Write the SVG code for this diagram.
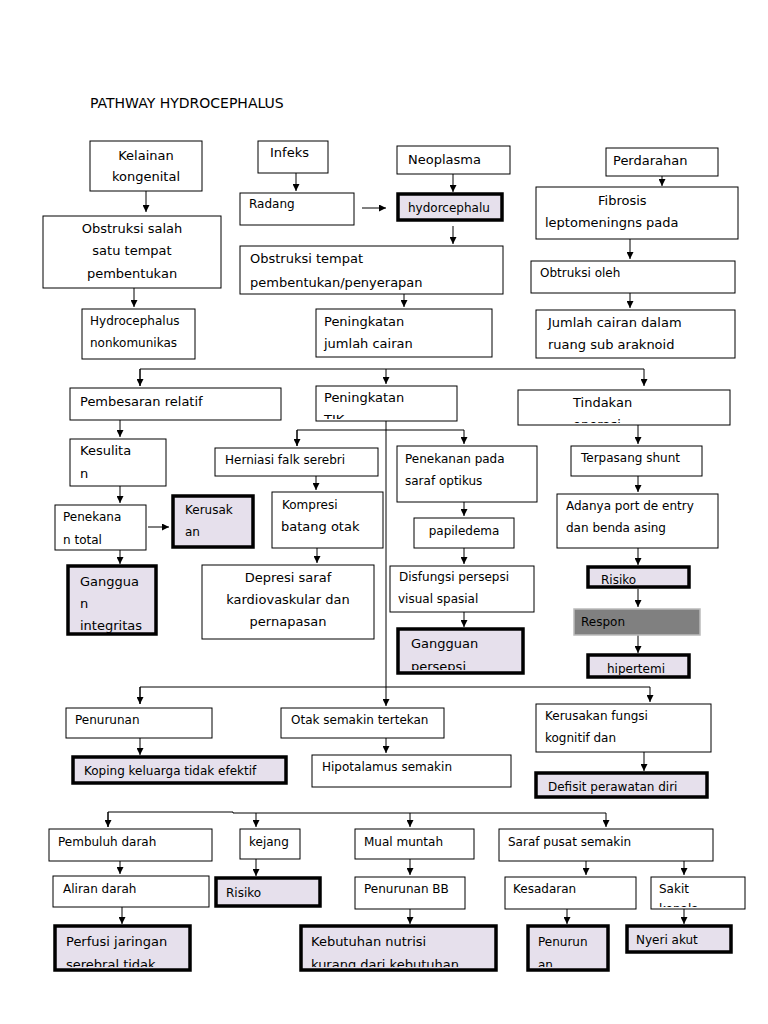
<svg xmlns="http://www.w3.org/2000/svg" width="768" height="1024" viewBox="0 0 768 1024">
<style>
.b{fill:#fff;stroke:#000;stroke-width:1}
.t{fill:#e6e0ec;stroke:#000;stroke-width:3.5}
.g{fill:#808080;stroke:#bbb;stroke-width:1.5}
text{font-family:"DejaVu Sans",sans-serif;font-size:13px;fill:#000}
.s{font-size:12px}
.c line,.c polyline{stroke:#000;stroke-width:1;fill:none}
</style>
<defs>
<marker id="a" viewBox="0 0 10 10" refX="10" refY="5" markerWidth="7" markerHeight="7" orient="auto"><path d="M0,0L10,5L0,10z" fill="#000"/></marker>
<clipPath id="k1"><rect x="316" y="386" width="141" height="33"/></clipPath>
<clipPath id="k2"><rect x="518" y="390" width="212" height="33"/></clipPath>
<clipPath id="k3"><rect x="68" y="566" width="88" height="68"/></clipPath>
<clipPath id="k4"><rect x="588" y="567" width="101" height="18"/></clipPath>
<clipPath id="k5"><rect x="398" y="629" width="125" height="41"/></clipPath>
<clipPath id="k6"><rect x="588" y="655" width="101" height="20"/></clipPath>
<clipPath id="k7"><rect x="536" y="773" width="171" height="22"/></clipPath>
<clipPath id="k8"><rect x="55" y="926" width="135" height="41"/></clipPath>
<clipPath id="k9"><rect x="301" y="926" width="195" height="41"/></clipPath>
<clipPath id="k10"><rect x="528" y="926" width="80" height="41"/></clipPath>
<clipPath id="k11"><rect x="651" y="877" width="94" height="30"/></clipPath>
</defs>
<text x="90" y="108" style="font-size:14px">PATHWAY HYDROCEPHALUS</text>

<g class="c">
<line x1="146" y1="191" x2="146" y2="212" marker-end="url(#a)"/>
<line x1="296" y1="173" x2="296" y2="191" marker-end="url(#a)"/>
<line x1="453" y1="174" x2="453" y2="192" marker-end="url(#a)"/>
<line x1="662" y1="176" x2="662" y2="186" marker-end="url(#a)"/>
<line x1="362" y1="208" x2="386" y2="208" marker-end="url(#a)"/>
<line x1="453" y1="226" x2="453" y2="244" marker-end="url(#a)"/>
<line x1="630" y1="239" x2="630" y2="259" marker-end="url(#a)"/>
<line x1="134" y1="288" x2="134" y2="307" marker-end="url(#a)"/>
<line x1="404" y1="294" x2="404" y2="307" marker-end="url(#a)"/>
<line x1="630" y1="293" x2="630" y2="308" marker-end="url(#a)"/>
<polyline points="140,386 140,369 644,369 644,386" marker-end="url(#a)"/>
<line x1="140" y1="369" x2="140" y2="386" marker-end="url(#a)"/>
<line x1="386" y1="369" x2="386" y2="384" marker-end="url(#a)"/>
<line x1="120" y1="420" x2="120" y2="437" marker-end="url(#a)"/>
<line x1="120" y1="486" x2="120" y2="503" marker-end="url(#a)"/>
<line x1="120" y1="550" x2="120" y2="564" marker-end="url(#a)"/>
<line x1="148" y1="527" x2="169" y2="527" stroke="#999" marker-end="url(#a)"/>
<line x1="386" y1="421" x2="386" y2="687"/>
<polyline points="297,446 297,430 464,430 464,444" marker-end="url(#a)"/>
<line x1="297" y1="430" x2="297" y2="446" marker-end="url(#a)"/>
<line x1="316" y1="476" x2="316" y2="490" marker-end="url(#a)"/>
<line x1="317" y1="548" x2="317" y2="563" marker-end="url(#a)"/>
<line x1="464" y1="502" x2="464" y2="516" marker-end="url(#a)"/>
<line x1="464" y1="548" x2="464" y2="564" marker-end="url(#a)"/>
<line x1="464" y1="612" x2="464" y2="627" marker-end="url(#a)"/>
<line x1="638" y1="425" x2="638" y2="444" stroke="#bbb" marker-end="url(#a)"/>
<line x1="638" y1="476" x2="638" y2="492" stroke="#bbb" marker-end="url(#a)"/>
<line x1="638" y1="548" x2="638" y2="565" stroke="#bbb" marker-end="url(#a)"/>
<line x1="638" y1="589" x2="638" y2="607" stroke="#bbb" marker-end="url(#a)"/>
<line x1="638" y1="635" x2="638" y2="653" marker-end="url(#a)"/>
<polyline points="140,704 140,687 650,687 650,702" marker-end="url(#a)"/>
<line x1="140" y1="687" x2="140" y2="704" marker-end="url(#a)"/>
<line x1="386" y1="687" x2="386" y2="706" marker-end="url(#a)"/>
<line x1="140" y1="738" x2="140" y2="755" marker-end="url(#a)"/>
<line x1="386" y1="738" x2="386" y2="753" marker-end="url(#a)"/>
<line x1="644" y1="752" x2="644" y2="771" marker-end="url(#a)"/>
<polyline points="108,827 108,812 233,812 233,813 606,813 606,827" marker-end="url(#a)"/>
<line x1="108" y1="812" x2="108" y2="827" marker-end="url(#a)"/>
<line x1="256" y1="813" x2="256" y2="827" marker-end="url(#a)"/>
<line x1="410" y1="813" x2="410" y2="827" marker-end="url(#a)"/>
<line x1="120" y1="861" x2="120" y2="874" stroke="#999" marker-end="url(#a)"/>
<line x1="256" y1="859" x2="256" y2="876" stroke="#999" marker-end="url(#a)"/>
<line x1="410" y1="859" x2="410" y2="875" marker-end="url(#a)"/>
<line x1="586" y1="861" x2="586" y2="875" marker-end="url(#a)"/>
<line x1="684" y1="861" x2="684" y2="875" marker-end="url(#a)"/>
<line x1="122" y1="907" x2="122" y2="924" marker-end="url(#a)"/>
<line x1="410" y1="909" x2="410" y2="924" marker-end="url(#a)"/>
<line x1="567" y1="909" x2="567" y2="924" stroke="#999" marker-end="url(#a)"/>
<line x1="684" y1="909" x2="684" y2="924" marker-end="url(#a)"/>
</g>

<g id="n1"><rect class="b" x="90" y="141" width="112" height="50"/><text x="146" y="160" text-anchor="middle">Kelainan</text><text x="146" y="181" text-anchor="middle">kongenital</text></g>
<g id="n2"><rect class="b" x="258" y="141" width="70" height="32"/><text x="270" y="157">Infeks</text></g>
<g id="n3"><rect class="b" x="397" y="146" width="113" height="28"/><text x="408" y="164">Neoplasma</text></g>
<g id="n4"><rect class="b" x="606" y="148" width="112" height="28"/><text x="613" y="165">Perdarahan</text></g>
<g id="n5"><rect class="b" x="240" y="193" width="114" height="32"/><text x="249" y="208" class="s">Radang</text></g>
<g id="n6"><rect class="t" x="398" y="194" width="104" height="26"/><text x="408" y="212" class="s">hydorcephalu</text></g>
<g id="n7"><rect class="b" x="536" y="187" width="202" height="52"/><text x="598" y="205">Fibrosis</text><text x="545" y="227">leptomeningns pada</text></g>
<g id="n8"><rect class="b" x="43" y="216" width="178" height="72"/><text x="132" y="233" text-anchor="middle">Obstruksi salah</text><text x="132" y="255" text-anchor="middle">satu tempat</text><text x="132" y="278" text-anchor="middle">pembentukan</text></g>
<g id="n9"><rect class="b" x="240" y="246" width="263" height="48"/><text x="250" y="263">Obstruksi tempat</text><text x="250" y="287">pembentukan/penyerapan</text></g>
<g id="n10"><rect class="b" x="531" y="261" width="204" height="32"/><text x="540" y="277" class="s">Obtruksi oleh</text></g>
<g id="n11"><rect class="b" x="82" y="309" width="113" height="50"/><text x="90" y="325" class="s">Hydrocephalus</text><text x="90" y="347" class="s">nonkomunikas</text></g>
<g id="n12"><rect class="b" x="316" y="309" width="176" height="48"/><text x="324" y="326">Peningkatan</text><text x="324" y="348">jumlah cairan</text></g>
<g id="n13"><rect class="b" x="536" y="310" width="199" height="48"/><text x="548" y="327">Jumlah cairan dalam</text><text x="548" y="349">ruang sub araknoid</text></g>
<g id="n14"><rect class="b" x="70" y="388" width="211" height="32"/><text x="80" y="406">Pembesaran relatif</text></g>
<g id="n15"><rect class="b" x="316" y="386" width="141" height="35"/><g clip-path="url(#k1)"><text x="324" y="402">Peningkatan</text><text x="324" y="424">TIK</text></g></g>
<g id="n16"><rect class="b" x="518" y="390" width="212" height="35"/><g clip-path="url(#k2)"><text x="573" y="407">Tindakan</text><text x="573" y="429">operasi</text></g></g>
<g id="n17"><rect class="b" x="70" y="439" width="96" height="47"/><text x="80" y="455">Kesulita</text><text x="80" y="478">n</text></g>
<g id="n18"><rect class="b" x="215" y="448" width="163" height="28"/><text x="225" y="464" class="s">Herniasi falk serebri</text></g>
<g id="n19"><rect class="b" x="397" y="446" width="140" height="56"/><text x="405" y="463" class="s">Penekanan pada</text><text x="405" y="485" class="s">saraf optikus</text></g>
<g id="n20"><rect class="b" x="571" y="446" width="131" height="30"/><text x="581" y="462" class="s">Terpasang shunt</text></g>
<g id="n21"><rect class="b" x="55" y="505" width="91" height="45"/><text x="63" y="521" class="s">Penekana</text><text x="63" y="544" class="s">n total</text></g>
<g id="n22"><rect class="t" x="173" y="496" width="80" height="51"/><text x="185" y="514" class="s">Kerusak</text><text x="185" y="536" class="s">an</text></g>
<g id="n23"><rect class="b" x="272" y="492" width="111" height="56"/><text x="282" y="509" class="s">Kompresi</text><text x="281" y="531">batang otak</text></g>
<g id="n24"><rect class="b" x="414" y="518" width="100" height="30"/><text x="464" y="535" text-anchor="middle" class="s">papiledema</text></g>
<g id="n25"><rect class="b" x="557" y="494" width="161" height="54"/><text x="566" y="510" class="s">Adanya port de entry</text><text x="566" y="532" class="s">dan benda asing</text></g>
<g id="n26"><rect class="t" x="68" y="566" width="88" height="68"/><g clip-path="url(#k3)"><text x="80" y="586">Ganggua</text><text x="80" y="608">n</text><text x="80" y="630">integritas</text></g></g>
<g id="n27"><rect class="b" x="202" y="565" width="172" height="74"/><text x="288" y="582" text-anchor="middle">Depresi saraf</text><text x="288" y="604" text-anchor="middle">kardiovaskular dan</text><text x="288" y="626" text-anchor="middle">pernapasan</text></g>
<g id="n28"><rect class="b" x="390" y="566" width="144" height="46"/><text x="399" y="581" class="s">Disfungsi persepsi</text><text x="398" y="603" class="s">visual spasial</text></g>
<g id="n29"><rect class="t" x="588" y="567" width="101" height="20"/><g clip-path="url(#k4)"><text x="601" y="584" class="s">Risiko</text></g></g>
<g id="n30"><rect class="g" x="574" y="609" width="126" height="26"/><text x="581" y="626" class="s">Respon</text></g>
<g id="n31"><rect class="t" x="398" y="629" width="125" height="44"/><g clip-path="url(#k5)"><text x="411" y="648">Gangguan</text><text x="411" y="671">persepsi</text></g></g>
<g id="n32"><rect class="t" x="588" y="655" width="101" height="22"/><g clip-path="url(#k6)"><text x="607" y="673" class="s">hipertemi</text></g></g>
<g id="n33"><rect class="b" x="66" y="708" width="146" height="30"/><text x="75" y="724" class="s">Penurunan</text></g>
<g id="n34"><rect class="b" x="281" y="708" width="163" height="30"/><text x="291" y="724" class="s">Otak semakin tertekan</text></g>
<g id="n35"><rect class="b" x="536" y="704" width="175" height="48"/><text x="545" y="720" class="s">Kerusakan fungsi</text><text x="545" y="742" class="s">kognitif dan</text></g>
<g id="n36"><rect class="t" x="73" y="757" width="213" height="26"/><text x="84" y="775" class="s">Koping keluarga tidak efektif</text></g>
<g id="n37"><rect class="b" x="312" y="755" width="199" height="32"/><text x="322" y="771" class="s">Hipotalamus semakin</text></g>
<g id="n38"><rect class="t" x="536" y="773" width="171" height="24"/><g clip-path="url(#k7)"><text x="548" y="791" class="s">Defisit perawatan diri</text></g></g>
<g id="n39"><rect class="b" x="49" y="829" width="163" height="32"/><text x="58" y="846" class="s">Pembuluh darah</text></g>
<g id="n40"><rect class="b" x="240" y="829" width="60" height="30"/><text x="249" y="846" class="s">kejang</text></g>
<g id="n41"><rect class="b" x="355" y="829" width="119" height="30"/><text x="364" y="846" class="s">Mual muntah</text></g>
<g id="n42"><rect class="b" x="499" y="829" width="214" height="32"/><text x="508" y="846" class="s">Saraf pusat semakin</text></g>
<g id="n43"><rect class="b" x="53" y="876" width="156" height="31"/><text x="63" y="893" class="s">Aliran darah</text></g>
<g id="n44"><rect class="t" x="216" y="878" width="104" height="28"/><text x="226" y="897" class="s">Risiko</text></g>
<g id="n45"><rect class="b" x="355" y="877" width="110" height="32"/><text x="364" y="893" class="s">Penurunan BB</text></g>
<g id="n46"><rect class="b" x="505" y="877" width="131" height="32"/><text x="513" y="893" class="s">Kesadaran</text></g>
<g id="n47"><rect class="b" x="651" y="877" width="94" height="32"/><g clip-path="url(#k11)"><text x="659" y="893" class="s">Sakit</text><text x="659" y="913" class="s">kepala</text></g></g>
<g id="n48"><rect class="t" x="55" y="926" width="135" height="44"/><g clip-path="url(#k8)"><text x="66" y="946">Perfusi jaringan</text><text x="66" y="969">serebral tidak</text></g></g>
<g id="n49"><rect class="t" x="301" y="926" width="195" height="44"/><g clip-path="url(#k9)"><text x="311" y="946">Kebutuhan nutrisi</text><text x="311" y="969">kurang dari kebutuhan</text></g></g>
<g id="n50"><rect class="t" x="528" y="926" width="80" height="44"/><g clip-path="url(#k10)"><text x="538" y="946" class="s">Penurun</text><text x="538" y="969" class="s">an</text></g></g>
<g id="n51"><rect class="t" x="627" y="926" width="104" height="26"/><text x="636" y="944" class="s">Nyeri akut</text></g>
</svg>
